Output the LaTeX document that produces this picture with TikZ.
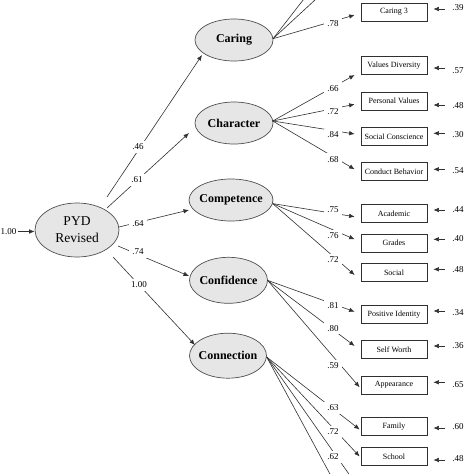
\documentclass[tikz,border=0pt]{standalone}
\usepackage{fontspec}
\setmainfont{Liberation Serif}
\usetikzlibrary{shapes.geometric,arrows.meta,calc}
\definecolor{latfill}{HTML}{E6E6E6}
\definecolor{edgecol}{HTML}{303030}
\begin{document}
\begin{tikzpicture}[x=1pt,y=-1pt,
 latent/.style={ellipse,draw=edgecol!85,fill=latfill,line width=0.7pt,inner xsep=-4pt,inner ysep=0pt,font=\fontsize{12}{14}\selectfont\bfseries},
 obs/.style={rectangle,draw=edgecol,fill=white,line width=0.7pt,minimum width=66pt,minimum height=18pt,inner sep=0pt,font=\fontsize{8}{9}\selectfont},
 lbl/.style={fill=white,inner xsep=3pt,inner ysep=3pt,font=\fontsize{9}{10}\selectfont},
 elbl/.style={inner sep=1pt,font=\fontsize{9}{10}\selectfont},
 conn/.style={draw=edgecol,line width=0.6pt,-{Latex[length=5.5pt,width=4.5pt]}},
 plainln/.style={draw=edgecol,line width=0.6pt}]
\useasboundingbox (0,0) rectangle (474,474);
\clip (0,0) rectangle (474,474);

% latent variables
\node[latent,minimum width=84pt,minimum height=54pt,font=\fontsize{13.5}{17}\selectfont,align=center,inner xsep=0pt] (pyd) at (77,230) {PYD\\Revised};
\node[latent,minimum width=78pt,minimum height=42pt] (caring) at (234,40) {Caring};
\node[latent,minimum width=78pt,minimum height=42pt] (character) at (234,123) {Character};
\node[latent,minimum width=84pt,minimum height=42pt] (competence) at (231,200) {Competence};
\node[latent,minimum width=78pt,minimum height=46pt] (confidence) at (228.5,280.3) {Confidence};
\node[latent,minimum width=77pt,minimum height=45pt] (connection) at (228,355.7) {Connection};

% observed variables
\node[obs] (c3) at (394,12.2) {Caring 3};
\node[obs] (vd) at (394,65.5) {Values Diversity};
\node[obs] (pv) at (394,101.2) {Personal Values};
\node[obs] (sc) at (394,136.5) {Social Conscience};
\node[obs] (cb) at (394,171.7) {Conduct Behavior};
\node[obs] (ac) at (394,213.3) {Academic};
\node[obs] (gr) at (394,243) {Grades};
\node[obs] (so) at (394,272.5) {Social};
\node[obs] (pi) at (394,314.2) {Positive Identity};
\node[obs] (sw) at (394,349.5) {Self Worth};
\node[obs] (ap) at (394,385.2) {Appearance};
\node[obs] (fa) at (394,426.5) {Family};
\node[obs] (sh) at (394,456.5) {School};

% fan points
\coordinate (fcar) at ($(caring.center)+(39,-1.3)$);
\coordinate (fcha) at ($(character.center)+(38.7,-2)$);
\coordinate (fcom) at ($(competence.center)+(41.7,3.6)$);
\coordinate (fcnf) at ($(confidence.center)+(39,0)$);
\coordinate (fcon) at ($(connection.center)+(38.7,1.3)$);
\coordinate (cut1) at (310.9,-10);
\coordinate (cut2) at (325.8,-10);
\coordinate (cut3) at (358,487);
\coordinate (cut4) at (344,500);

% input
\node[elbl] (inp) at (8.5,231.5) {1.00};
\draw[conn] (inp.east) -- (inp.east -| pyd.west);

% structural paths
\draw[conn] ($(pyd.center)+(30,-33)$) -- ($(caring.center)+(-32,15)$);
\draw[conn] ($(pyd.center)+(30,-22)$) -- ($(character.center)+(-45,10)$);
\draw[conn] ($(pyd.center)+(42,-3)$) -- ($(competence.center)+(-42,10)$);
\draw[conn] ($(pyd.center)+(41,16)$) -- ($(confidence.center)+(-39.5,-4.3)$);
\draw[conn] ($(pyd.center)+(36,27)$) -- ($(connection.center)+(-33,-10.7)$);

% loadings
\draw[plainln] (fcar) -- (cut1);
\draw[plainln] (fcar) -- (cut2);
\draw[conn] (fcar) -- ($(c3.west)+(-6,2.8)$);
\draw[conn] (fcha) -- ($(vd.west)+(-6,9.5)$);
\draw[conn] (fcha) -- ($(pv.west)+(-6,3.1)$);
\draw[conn] (fcha) -- ($(sc.west)+(-6,-2.5)$);
\draw[conn] (fcha) -- ($(cb.west)+(-6,-2.4)$);
\draw[conn] (fcom) -- ($(ac.west)+(-6,3.4)$);
\draw[conn] (fcom) -- ($(gr.west)+(-6,-3.7)$);
\draw[conn] (fcom) -- ($(so.west)+(-6,2.5)$);
\draw[conn] (fcnf) -- ($(pi.west)+(-6,-2.5)$);
\draw[conn] (fcnf) -- ($(sw.west)+(-6,-3.5)$);
\draw[conn] (fcnf) -- ($(ap.west)+(-1,2.1)$);
\draw[conn] (fcon) -- ($(fa.west)+(-1,3)$);
\draw[conn] (fcon) -- ($(sh.west)+(-1,0)$);
\draw[conn] (fcon) -- (cut3);
\draw[plainln] (fcon) -- (cut4);

% path labels
\node[lbl] (l46) at (138,147) {.46};
\node[lbl] (l61) at (137,180) {.61};
\node[lbl] (l64) at (138,224) {.64};
\node[lbl] (l74) at (138,252) {.74};
\node[lbl] (l100) at (139,285) {1.00};
\node[lbl] (lc3) at (333,24) {.78};
\node[lbl] (lvd) at (333,88.3) {.66};
\node[lbl] (lpv) at (333,111.7) {.72};
\node[lbl] (lsc) at (333,135) {.84};
\node[lbl] (lcb) at (333,159.3) {.68};
\node[lbl] (lac) at (333,209.3) {.75};
\node[lbl] (lgr) at (333,236) {.76};
\node[lbl] (lso) at (333,260) {.72};
\node[lbl] (lpi) at (333,306) {.81};
\node[lbl] (lsw) at (333,328.3) {.80};
\node[lbl] (lap) at (333,366) {.59};
\node[lbl] (lfa) at (333,408) {.63};
\node[lbl] (lsh) at (333,432) {.72};
\node[lbl] (lx) at (333,457) {.62};

% error terms
\foreach \b/\ly/\dy/\v [count=\i] in {c3/8/-3.2/.39, vd/71/2.5/.57, pv/106/3.8/.48, sc/135/-3.2/.30, cb/171/-2.4/.54, ac/209.3/-3.3/.44, gr/238.3/-3.7/.40, so/269.3/-3.2/.48, pi/313/-3.2/.34, sw/345.3/-3.5/.36, ap/384.7/-2.9/.65, fa/427/1.5/.60, sh/459/3.5/.48}{
  \node[elbl] (e\i) at (458,\ly) {\v};
  \coordinate (t\i) at ($(\b.east)+(6,\dy)$);
  \draw[conn,shorten <=6.5pt] (e\i.west |- t\i) -- (t\i);
}
\end{tikzpicture}
\end{document}
